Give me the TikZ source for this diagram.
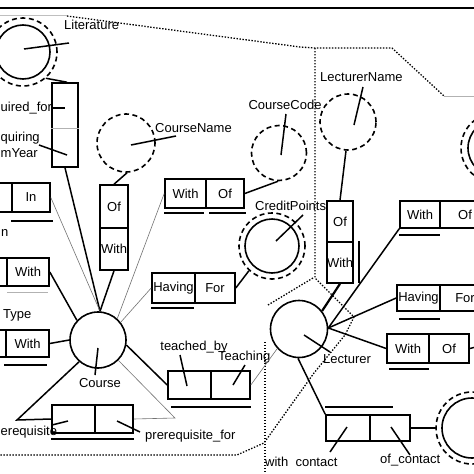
\documentclass[tikz,border=0pt]{standalone}
\usepackage{fontspec}
\setmainfont{Liberation Sans}
\begin{document}
\begin{tikzpicture}[
 x=1pt,y=-1pt,
 every node/.style={font=\fontsize{13}{15}\selectfont},
 obj/.style={circle, draw, line width=1.6pt, inner sep=0pt},
 dobj/.style={circle, draw, line width=1.6pt, dash pattern=on 5pt off 3.5pt, inner sep=0pt},
 cell/.style={draw, line width=1.6pt, inner sep=0pt},
 conn/.style={line width=1.5pt},
 thinc/.style={line width=0.6pt, black!55},
 ubar/.style={line width=1.7pt},
 lab/.style={inner sep=0pt},
 tick/.style={line width=1.5pt},
 bound/.style={line width=1.3pt, dash pattern=on 1.4pt off 1.6pt},
]
\useasboundingbox (0,0) rectangle (474,474);
\clip (0,0) rectangle (474,474);
\fill[white] (0,0) rectangle (474,474);
% frame top
\draw[line width=1.8pt] (0,8) -- (474,8);
\draw[line width=0.5pt, black!25] (0,15) -- (67,15);
% boundaries
\draw[bound] (67,16) -- (300,47) -- (315,48) -- (392,48) -- (444,96);
\draw[line width=0.5pt, black!30] (444,96) -- (474,96);
\draw[bound] (315,48) -- (315,278) -- (354,317) -- (345,335) -- (314,373) -- (264,443) -- (237,455) -- (0,455);
\draw[bound] (268,305) -- (313,278);
\draw[bound] (265,342) -- (265,474);

% object types
\node[dobj, minimum size=68pt] (litd) at (23,52) {};
\node[obj, minimum size=54pt] (lit) at (23,52) {};
\node[dobj, minimum size=58pt] (cname) at (126,143) {};
\node[dobj, minimum size=55pt] (ccode) at (279,153) {};
\node[dobj, minimum size=56pt] (lname) at (348,122) {};
\node[dobj, minimum size=66pt] (creditd) at (272,246) {};
\node[obj, minimum size=54pt] (credit) at (272,246) {};
\node[obj, minimum size=56pt] (course) at (98,340) {};
\node[obj, minimum size=57pt] (lect) at (299,329) {};
\node[dobj, minimum size=70pt] (trd) at (496,148) {};
\node[obj, minimum size=56pt] (tr) at (496,148) {};
\node[dobj, minimum size=72pt] (brd) at (472,428) {};
\node[obj, minimum size=60pt] (br) at (472,428) {};

% labels of objects
\node[lab, anchor=west] (litlab) at (64,25) {Literature};
\node[lab, anchor=west] (cnlab) at (155,128) {CourseName};
\node[lab] (cclab) at (285,105) {CourseCode};
\node[lab, anchor=west] (lnlab) at (320,77) {LecturerName};
\node[lab, anchor=west] (cplab) at (255,206) {CreditPoints};
\node[lab] (courselab) at (100,383) {Course};
\node[lab, anchor=west] (lectlab) at (323,359) {Lecturer};
\draw[tick] (24,49) -- (69,43);
\draw[tick] (131,145) -- (176,136);
\draw[tick] (286,114) -- (281,155);
\draw[tick] (363,87) -- (354,125);
\draw[tick] (276,241) -- (303,215);
\draw[tick] (95,375) -- (98,348);
\draw[tick] (304,335) -- (330,352);

% fact type boxes
\node[cell, minimum width=26pt, minimum height=84pt] (litbox) at (65,125) {};
\draw[line width=0.5pt, black!30] (litbox.west |- 0,128) -- (litbox.east |- 0,128);
\node[cell, minimum width=22pt, minimum height=29pt] (inL) at (1,197.5) {};
\node[cell, minimum width=38pt, minimum height=29pt] (inR) at (31,197.5) {In};
\node[cell, minimum width=22pt, minimum height=28pt] (waL) at (-4,272) {};
\node[cell, minimum width=42pt, minimum height=28pt] (waR) at (28,272) {With};
\node[cell, minimum width=21pt, minimum height=27pt] (wbL) at (-4.5,343.5) {};
\node[cell, minimum width=43pt, minimum height=27pt] (wbR) at (27.5,343.5) {With};
\node[cell, minimum width=43pt, minimum height=28pt] (prA) at (73.5,419) {};
\node[cell, minimum width=38pt, minimum height=28pt] (prB) at (114,419) {};
\node[cell, minimum width=43pt, minimum height=28pt] (teA) at (189.5,385) {};
\node[cell, minimum width=39pt, minimum height=28pt] (teB) at (230.5,385) {};
\node[cell, minimum width=41pt, minimum height=29pt] (ccA) at (185.5,193.5) {With};
\node[cell, minimum width=38pt, minimum height=29pt] (ccB) at (225,193.5) {Of};
\node[cell, minimum width=43pt, minimum height=30pt] (cpA) at (173.5,288) {Having};
\node[cell, minimum width=40pt, minimum height=30pt] (cpB) at (215,288) {For};
\node[cell, minimum width=26pt, minimum height=41pt] (lnOf) at (340,221.5) {Of};
\node[cell, minimum width=26pt, minimum height=41pt] (lnWith) at (340,262.5) {With};
\node[cell, minimum width=28pt, minimum height=43pt] (cnOf) at (114,206.5) {Of};
\node[cell, minimum width=28pt, minimum height=42pt] (cnWith) at (114,249) {With};
\node[cell, minimum width=40pt, minimum height=27pt] (r1A) at (420,214.5) {With};
\node[cell, minimum width=50pt, minimum height=27pt] (r1B) at (465,214.5) {Of};
\node[cell, minimum width=43pt, minimum height=26pt] (rhA) at (418.5,298) {Having};
\node[cell, minimum width=50pt, minimum height=26pt] (rhB) at (465,298) {For};
\node[cell, minimum width=42pt, minimum height=29pt] (r2A) at (408,348.5) {With};
\node[cell, minimum width=40pt, minimum height=29pt] (r2B) at (449,348.5) {Of};
\node[cell, minimum width=44pt, minimum height=26pt] (coA) at (348,428) {};
\node[cell, minimum width=40pt, minimum height=26pt] (coB) at (390,428) {};

% uniqueness bars
\draw[ubar] ([yshift=-8pt]inR.south west) -- ([yshift=-8pt,xshift=2pt]inR.south east);
\draw[line width=0.6pt, black!30] ([yshift=-5pt,xshift=1pt]waR.south west) -- ([yshift=-5pt,xshift=-2pt]waR.south east);
\draw[ubar] ([yshift=-7pt,xshift=-1pt]wbR.south west) -- ([yshift=-7pt,xshift=-3pt]wbR.south east);
\draw[ubar] ([yshift=-5pt]prA.south west) -- ([yshift=-5pt]prB.south east);
\draw[ubar] ([yshift=-7pt,xshift=4pt]teA.south west) -- ([yshift=-7pt]teB.south east);
\draw[ubar] ([yshift=-4pt]ccA.south west) -- ([yshift=-4pt,xshift=-3pt]ccA.south east);
\draw[ubar] ([yshift=-4pt,xshift=4pt]ccB.south west) -- ([yshift=-4pt,xshift=1pt]ccB.south east);
\draw[ubar] ([yshift=-4pt]cpA.south west) -- ([yshift=-4pt,xshift=-2pt]cpA.south east);
\draw[ubar] ([xshift=5pt]lnWith.north east) -- ([xshift=5pt,yshift=1pt]lnWith.south east);
\draw[ubar] ([yshift=-6pt]r1A.south west) -- ([yshift=-6pt,xshift=-1pt]r1A.south east);
\draw[ubar] ([yshift=-7pt,xshift=3pt]rhA.south west) -- ([yshift=-7pt,xshift=-1pt]rhA.south east);
\draw[ubar] ([yshift=-5pt,xshift=3pt]r2A.south west) -- ([yshift=-5pt,xshift=-1pt]r2A.south east);
\draw[ubar] ([yshift=7pt]coA.north west) -- ([yshift=7pt,xshift=22pt]coA.north east);

% role labels
\node[lab, anchor=west] (reqfor) at (0.5,108) {uired\_for};
\node[lab, anchor=west] (reqing) at (0.5,138) {quiring};
\node[lab, anchor=west] (myear) at (0.5,153) {mYear};
\node[lab, anchor=west] (onlab) at (1,233) {n};
\node[lab, anchor=west] (typelab) at (3,315) {Type};
\node[lab, anchor=west] (prlab) at (0.5,432) {erequisite};
\node[lab, anchor=west] (prforlab) at (145,436) {prerequisite\_for};
\node[lab] (tblab) at (194,347) {teached\_by};
\node[lab, anchor=west] (teachlab) at (218,357) {Teaching};
\node[lab, anchor=west] (wclab) at (265,462) {with\ \ contact};
\node[lab, anchor=west] (oclab) at (380,460) {of\_contact};
\draw[tick] (reqfor.east) -- (65,108);
\draw[tick] (39,145) -- (67,155);
\draw[tick] (52,425) -- (68,421);
\draw[tick] (117,421) -- (140,432);
\draw[tick] (180,355) -- (187,386);
\draw[tick] (245,365) -- (233,385);
\draw[tick] (330,452) -- (347,427);
\draw[tick] (391,427) -- (410,455);

% connectors
\coordinate (pL) at (17,420);
\coordinate (pR) at (175,418);
\coordinate (offR) at (480,346);
\draw[conn] (litd.-49) -- ([xshift=2pt]litbox.north);
\draw[conn] (litbox.south) -- (course.86);
\draw[thinc] (inR.east) -- (course.86);
\draw[conn] (waR.east) -- (course.137);
\draw[conn] (wbR.east) -- (course.180);
\draw[conn] (cnOf.north) -- (cname.-88);
\draw[conn] (cnWith.south) -- (course.86);
\draw[thinc] (ccA.west) -- (course.48);
\draw[conn] (ccB.east) -- (ccode.-92);
\draw[thinc] (cpA.west) -- (course.38);
\draw[conn] (cpB.east) -- (creditd.-133);
\draw[conn] (course.-10) -- (teA.west);
\draw[thinc] (teB.east) -- (lect.-138);
\draw[conn] (course.-131) -- (pL) -- (prA.west);
\draw[thinc] (course.-45) -- (pR) -- (prB.east);
\draw[conn] (lnOf.north) -- (lname.-94);
\draw[line width=2.2pt] (lnWith.south) -- (lect.38);
\draw[conn] (r1A.south west) -- (lect.2);
\draw[conn] (rhA.west) -- (lect.2);
\draw[conn] (r2A.west) -- (lect.2);
\draw[conn] (r2B.east) -- (offR);
\draw[conn] (lect.-92) -- (coA.north west);
\draw[conn] (coB.east) -- (brd.180);
\end{tikzpicture}
\end{document}
